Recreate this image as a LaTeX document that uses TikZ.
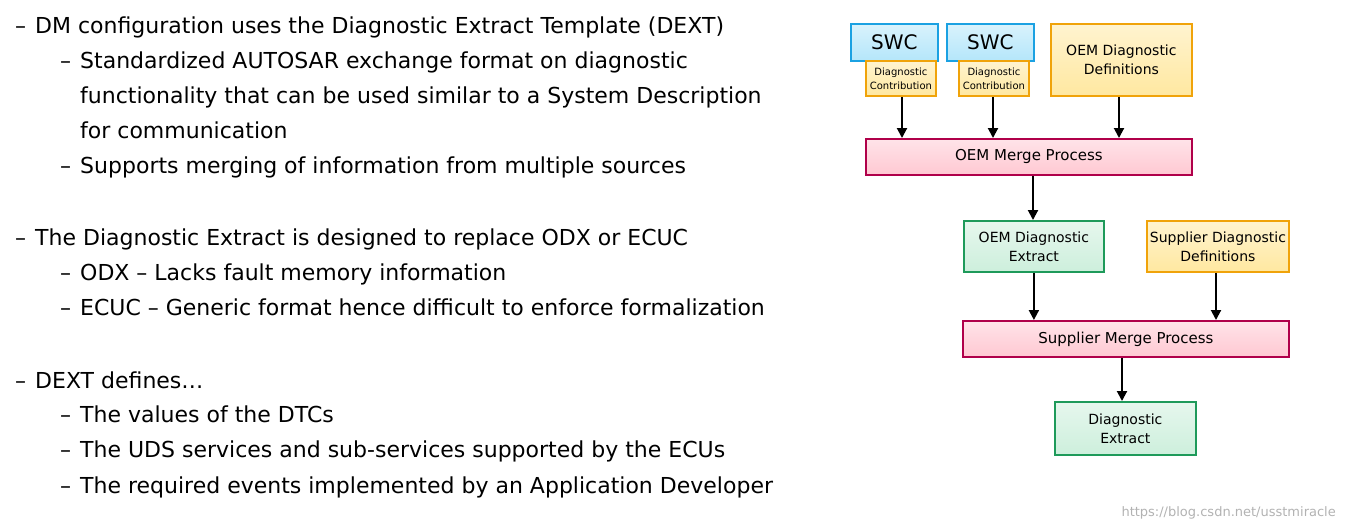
\documentclass[tikz,border=0pt]{standalone}
\usepackage{fontspec}
\setmainfont{DejaVu Sans}
\usetikzlibrary{arrows.meta}
\definecolor{bluefill}{HTML}{B4E6FA}\definecolor{blueline}{HTML}{1BA1E2}
\definecolor{yelfill}{HTML}{FFE8A0}\definecolor{yelline}{HTML}{F0A30A}
\definecolor{pinkfill}{HTML}{FFC8D2}\definecolor{pinkline}{HTML}{B0004A}
\definecolor{grnfill}{HTML}{CDEFDC}\definecolor{grnline}{HTML}{1E9A5A}
\begin{document}
\begin{tikzpicture}[x=1pt,y=-1pt,
  bx/.style={draw,line width=1.8pt,inner sep=0pt,font=\fontsize{14}{17}\selectfont,align=center},
  blu/.style={bx,top color=bluefill!50,bottom color=bluefill,draw=blueline,font=\fontsize{20}{22}\selectfont},
  yel/.style={bx,top color=yelfill!50,bottom color=yelfill,draw=yelline},
  pnk/.style={bx,top color=pinkfill!50,bottom color=pinkfill,draw=pinkline,font=\fontsize{15}{17}\selectfont},
  grn/.style={bx,top color=grnfill!50,bottom color=grnfill,draw=grnline},
  arr/.style={-{Triangle[length=10pt,width=10pt]},line width=2pt},
  t1/.style={anchor=base west,inner sep=0pt,font=\fontsize{22}{26}\selectfont},
]
\useasboundingbox (0,0) rectangle (1345,528);
% text
\foreach \y/\d/\x/\s in {
 33/15/35/{DM configuration uses the Diagnostic Extract Template (DEXT)},
 68/60/80/{Standardized AUTOSAR exchange format on diagnostic},
 173/60/80/{Supports merging of information from multiple sources},
 245/15/35/{The Diagnostic Extract is designed to replace ODX or ECUC},
 280/60/80/{ODX – Lacks fault memory information},
 315/60/80/{ECUC – Generic format hence difficult to enforce formalization},
 388/15/35/{DEXT defines…},
 422/60/80/{The values of the DTCs},
 457/60/80/{The UDS services and sub-services supported by the ECUs},
 493/60/80/{The required events implemented by an Application Developer}}
 {\node[t1] at (\d,\y) {–}; \node[t1] at (\x,\y) {\s};}
\node[t1] (l2) at (80,103) {functionality that can be used similar to a System Description};
\node[t1] (l3) at (80,138) {for communication};
% boxes
\node[blu,minimum width=87pt,minimum height=37pt,anchor=north west] (s1) at (850,23) {SWC};
\node[blu,minimum width=87pt,minimum height=37pt,anchor=north west] (s2) at (946,23) {SWC};
\node[yel,minimum width=70pt,minimum height=35pt,anchor=north west,font=\fontsize{10}{14}\selectfont] (c1) at (865,60) {Diagnostic\\Contribution};
\node[yel,minimum width=70pt,minimum height=35pt,anchor=north west,font=\fontsize{10}{14}\selectfont] (c2) at (958,60) {Diagnostic\\Contribution};
\node[yel,minimum width=141pt,minimum height=72pt,anchor=north west] (od) at (1050,23) {OEM Diagnostic\\[2pt]Definitions};
\node[pnk,minimum width=326pt,minimum height=36pt,anchor=north west] (om) at (865,138) {OEM Merge Process};
\node[grn,minimum width=140pt,minimum height=51pt,anchor=north west] (oe) at (963,220) {OEM Diagnostic\\[2pt]Extract};
\node[yel,minimum width=142pt,minimum height=51pt,anchor=north west] (sd) at (1146,220) {Supplier Diagnostic\\[2pt]Definitions};
\node[pnk,minimum width=326pt,minimum height=36pt,anchor=north west] (sm) at (962,320) {Supplier Merge Process};
\node[grn,minimum width=141pt,minimum height=53pt,anchor=north west] (de) at (1054,401) {Diagnostic\\[2pt]Extract};
% arrows
\draw[arr] (c1.south -| 902,0) -- (om.north -| 902,0);
\draw[arr] (c2.south -| 993,0) -- (om.north -| 993,0);
\draw[arr] (od.south -| 1119,0) -- (om.north -| 1119,0);
\draw[arr] (om.south -| 1033,0) -- (oe.north -| 1033,0);
\draw[arr] (oe.south) -- (sm.north -| oe.south);
\draw[arr] (sd.south -| 1216,0) -- (sm.north -| 1216,0);
\draw[arr] (sm.south -| 1122,0) -- (de.north -| 1122,0);
\node[anchor=base east,inner sep=0pt,text=gray!60,font=\fontsize{13}{15}\selectfont] (wm) at (1336,516) {https://blog.csdn.net/usstmiracle};
\end{tikzpicture}
\end{document}
